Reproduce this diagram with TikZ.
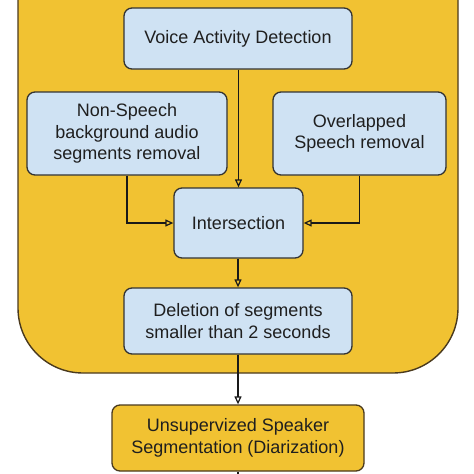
\documentclass[tikz,border=0pt]{standalone}
\usepackage{fontspec}
\setmainfont{Liberation Sans}
\usetikzlibrary{arrows.meta}
\definecolor{gyellow}{HTML}{F1C232}
\definecolor{gblue}{HTML}{CFE2F3}
\definecolor{edge}{HTML}{333333}
\definecolor{brownedge}{HTML}{4A3A1E}
\begin{document}
\begin{tikzpicture}[x=1pt,y=-1pt,
  box/.style={draw=edge, line width=1.3pt, fill=gblue, rounded corners=8pt, align=center,
    font=\fontsize{18}{21.5}\selectfont, text=black!88, inner sep=0pt},
  ybox/.style={box, fill=gyellow, draw=brownedge},
  conn/.style={draw=black!90, line width=1.8pt, -{Triangle[open, length=8pt, width=7pt, line width=1.2pt]}},
  plain/.style={draw=black!90, line width=1.8pt}]
\useasboundingbox (0,0) rectangle (474,474);
\fill[white] (0,0) rectangle (474,474);
\begin{scope}
\clip (0,0) rectangle (474,474);
\draw[fill=gyellow, draw=brownedge, line width=1.4pt, rounded corners=65pt] (18,-100) rectangle (458,373);
\end{scope}
\node[box, minimum width=228pt, minimum height=61pt] (vad) at (238,38.5) {Voice Activity Detection};
\node[box, minimum width=200pt, minimum height=83pt] (ns) at (127,133.5) {Non-Speech\\background audio\\segments removal};
\node[box, minimum width=173pt, minimum height=83pt] (ov) at (359.5,133.5) {Overlapped\\Speech removal};
\node[box, minimum width=129pt, minimum height=70pt] (int) at (238.5,223) {Intersection};
\node[box, minimum width=228pt, minimum height=66pt] (del) at (238,321) {Deletion of segments\\smaller than 2 seconds};
\node[ybox, minimum width=252pt, minimum height=66pt] (uns) at (238,438) {Unsupervized Speaker\\Segmentation (Diarization)};
\coordinate (end) at (238,480);
\draw[conn] (vad.south -| int.north) -- (int.north);
\draw[conn] (ns.south) |- (int.west);
\draw[conn] (ov.south) |- (int.east);
\draw[conn] (int.south -| del.north) -- (del.north);
\draw[conn] (del.south) -- (uns.north);
\draw[plain] (uns.south) -- (end);
\end{tikzpicture}
\end{document}
